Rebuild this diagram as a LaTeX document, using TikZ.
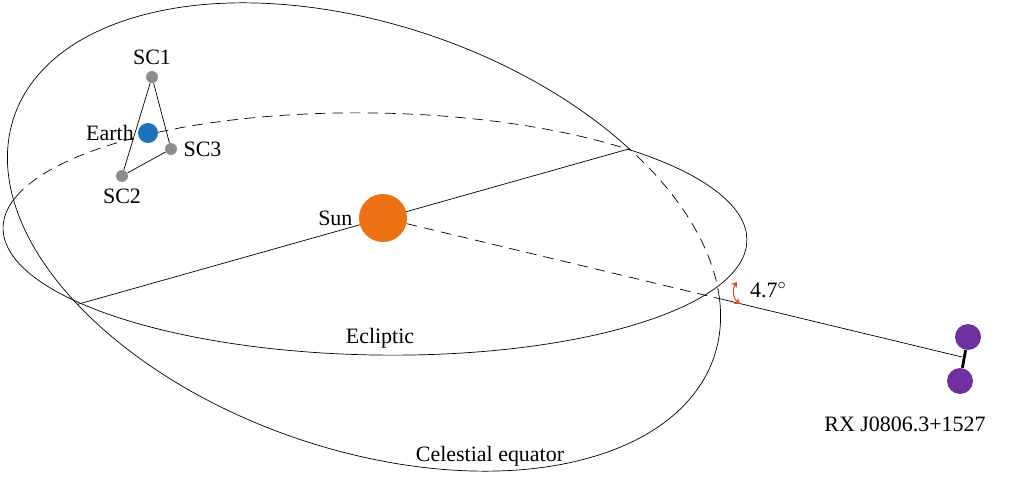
\documentclass[tikz,border=0pt]{standalone}
\usepackage{fontspec}
\setmainfont{Liberation Serif}
\usetikzlibrary{arrows.meta}
\definecolor{sunorange}{HTML}{EE7214}
\definecolor{earthblue}{HTML}{1B72BE}
\definecolor{starpurple}{HTML}{7030A0}
\definecolor{angred}{HTML}{E8461E}
\begin{document}
\begin{tikzpicture}[x=0.02cm, y=0.02cm, line cap=round, line join=round,
  font=\fontsize{12.5}{14}\selectfont,
  hidden/.style={dash pattern=on 6pt off 4pt, line cap=butt},
  craft/.style={circle, fill=gray!90, minimum size=12*0.02cm, inner sep=0},
  star/.style={circle, fill=starpurple, minimum size=26*0.02cm, inner sep=0}]
	%Frame
	\useasboundingbox (0,0) rectangle (1019,481);
	%Coordinates
	\coordinate (ec) at (375,247);
	\coordinate (eq) at (364,244);
	\path[rotate around={-19:(eq)}] (eq) ++(227.7:370 and 212.3) coordinate (n1);
	\path[rotate around={-19:(eq)}] (eq) ++(53.1:370 and 212.3) coordinate (n2);
	\path[rotate around={-19:(eq)}] (eq) ++(15.7:370 and 212.3) coordinate (cut);
	\coordinate (lnk) at (962,124);

	%Ecliptic
	\draw[rotate around={-1:(ec)}] (ec) ++(45.4:372 and 121) arc[start angle=45.4, end angle=-198.4, x radius=372, y radius=121];
	\draw[hidden, rotate around={-1:(ec)}] (ec) ++(45.4:372 and 121) arc[start angle=45.4, end angle=161.6, x radius=372, y radius=121];
	%Equator
	\draw[rotate around={-19:(eq)}] (eq) ++(53.1:370 and 212.3) arc[start angle=53.1, end angle=375.7, x radius=370, y radius=212.3];
	\draw[hidden, rotate around={-19:(eq)}] (eq) ++(15.7:370 and 212.3) arc[start angle=15.7, end angle=53.1, x radius=370, y radius=212.3];

	%Line of nodes and source direction
	\draw (n1) -- (n2);
	\node[circle, fill=sunorange, minimum size=48*0.02cm, inner sep=0] (sun) at (383,263) {};
	\node[left] at (sun.west) {Sun};
	\draw[hidden] (sun) -- (cut);
	\draw (cut) -- (lnk);

	%Binary
	\node[star] (rx1) at (968,144) {};
	\node[star] (rx2) at (960,100) {};
	\draw[line width=1.6pt, line cap=butt] (rx1) -- (rx2);
	\node at (905,57) {RX J0806.3+1527};

	%Angle
	\draw[{Stealth[length=3pt,width=4pt]}-{Stealth[length=3pt,width=4pt]}, angred, semithick] (737,199) to[bend right=45] (740,177);
	\node[right, inner sep=1pt] at (748,191) {4.7$^{\circ}$};

	%Spacecraft
	\node[circle, fill=earthblue, minimum size=20*0.02cm, inner sep=0] (earth) at (148,348) {};
	\node[craft] (sc1) at (152,404) {};
	\node[craft] (sc2) at (122,305) {};
	\node[craft] (sc3) at (171,332) {};
	\draw[thin] (sc1) -- (sc2) -- (sc3) -- (sc1);
	\node[above] at (sc1.north) {SC1};
	\node[below] at (sc2.south) {SC2};
	\node[right] at (sc3.east) {SC3};
	\node[left, inner sep=2pt] at (earth.west) {Earth};

	%Labels
	\node at (380,143) {Ecliptic};
	\node at (490,25) {Celestial equator};
\end{tikzpicture}
\end{document}
